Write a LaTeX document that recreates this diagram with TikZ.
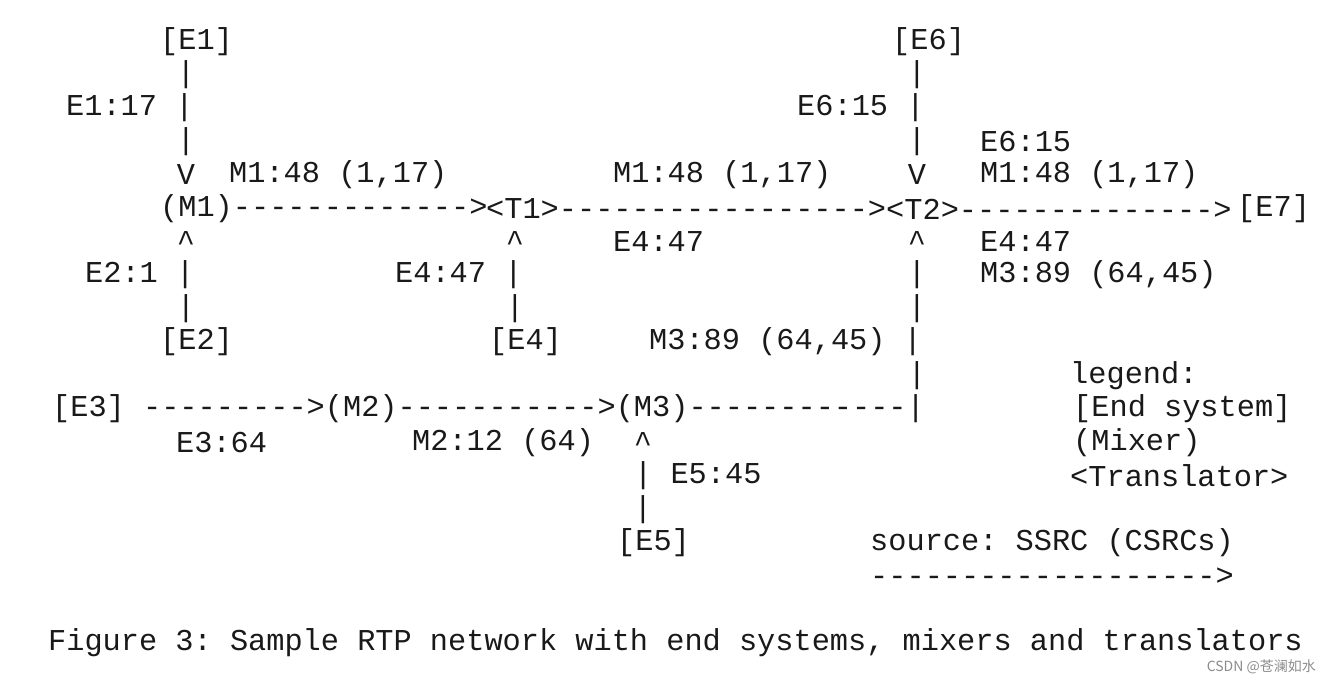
\documentclass[tikz,border=0pt]{standalone}
\usepackage{fontspec}
\setmonofont{Liberation Mono}
\newfontfamily\cjk{Noto Sans CJK SC}
\begin{document}
\begin{tikzpicture}[x=1pt,y=-1pt,
  t/.style={anchor=west,inner sep=0pt,font=\ttfamily\fontsize{30.3}{30.3}\selectfont,text=black!90,yshift=-2pt},
  c/.style={anchor=center,inner sep=0pt,font=\ttfamily\fontsize{30.3}{30.3}\selectfont,text=black!90,yshift=-2pt}]
\useasboundingbox[fill=white] (0,0) rectangle (1330,681);
% row 0
\node[t] (e1) at (160,40) {[E1]};
\node[t] (e6) at (892,40) {[E6]};
% row 1
\node[c] (a1) at (186,73) {|};
\node[c] (b1) at (917,73) {|};
% row 2
\node[t] (l1) at (66,106) {E1:17 |};
\node[t] (l2) at (797,106) {E6:15 |};
% row 3
\node[c] (a3) at (186,140) {|};
\node[c] (b3) at (917,140) {|};
\node[t] (l3) at (980,140) {E6:15};
% row 4
\node[c] (a4) at (186,173) {V};
\node[t] (l4) at (229,173) {M1:48 (1,17)};
\node[t] (l5) at (613,173) {M1:48 (1,17)};
\node[c] (b4) at (917,173) {V};
\node[t] (l6) at (980,173) {M1:48 (1,17)};
% row 5
\node[t] (m1) at (160,207) {(M1)------------->};
\node[t] (t1) at (486,207) {<T1>----------------->};
\node[t] (t2) at (886,207) {<T2>-------------->};
\node[t] (e7) at (1237,207) {[E7]};
% row 6
\node[c] (a6) at (186,240) {\^{}};
\node[c] (c6) at (515,240) {\^{}};
\node[t] (l7) at (613,240) {E4:47};
\node[c] (b6) at (917,240) {\^{}};
\node[t] (l8) at (980,240) {E4:47};
% row 7
\node[t] (l9) at (85,273) {E2:1 |};
\node[t] (l10) at (395,273) {E4:47 |};
\node[c] (b7) at (917,273) {|};
\node[t] (l11) at (980,273) {M3:89 (64,45)};
% row 8
\node[c] (a8) at (186,307) {|};
\node[c] (c8) at (515,307) {|};
\node[c] (b8) at (917,307) {|};
% row 9
\node[t] (e2) at (160,340) {[E2]};
\node[t] (e4) at (489,340) {[E4]};
\node[t] (l12) at (649,340) {M3:89 (64,45) |};
% row 10
\node[c] (b10) at (917,374) {|};
\node[t] (g1) at (1070,374) {legend:};
% row 11
\node[t] (e3) at (52,407) {[E3] --------->(M2)----------->(M3)------------|};
\node[t] (g2) at (1073,407) {[End system]};
% row 12
\node[t] (l13) at (176,441) {E3:64};
\node[t] (l14) at (412,441) {M2:12 (64)};
\node[c] (d12) at (643,441) {\^{}};
\node[t] (g3) at (1073,441) {(Mixer)};
% row 13
\node[t] (l15) at (634,474) {| E5:45};
\node[t] (g4) at (1070,474) {<Translator>};
% row 14
\node[c] (d14) at (643,508) {|};
% row 15
\node[t] (e5) at (617,541) {[E5]};
\node[t] (s1) at (870,541) {source: SSRC (CSRCs)};
% row 16
\node[t] (s2) at (870,575) {------------------->};
% caption
\node[t] (cap) at (48,641) {Figure 3: Sample RTP network with end systems, mixers and translators};
\node[anchor=east,inner sep=0pt,font=\cjk\fontsize{14}{14}\selectfont,text=black!45] (wm) at (1316,667) {CSDN @苍澜如水};
\end{tikzpicture}
\end{document}
